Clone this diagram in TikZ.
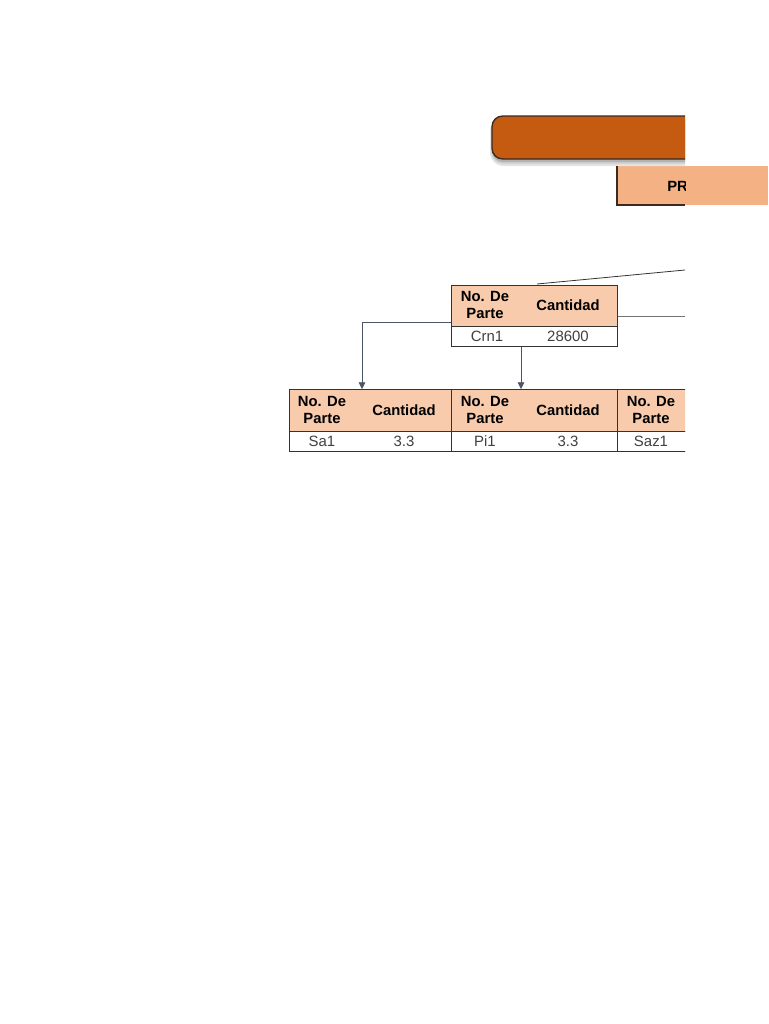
\documentclass[tikz,border=0pt]{standalone}
\usepackage{fontspec}
\setmainfont{Liberation Sans}
\usetikzlibrary{arrows.meta}
\definecolor{darkorange}{HTML}{C55A11}
\definecolor{prfill}{HTML}{F4B183}
\definecolor{hdrfill}{HTML}{F8CBAD}
\definecolor{boxline}{HTML}{3A2A20}
\definecolor{conn}{HTML}{4A5566}
\definecolor{datatext}{HTML}{404040}
\tikzset{
  hdrcell/.style={draw=black!80, line width=0.6pt, fill=hdrfill, anchor=north west, inner sep=0pt, minimum height=#1},
  datacell/.style={draw=black!80, line width=0.6pt, fill=white, anchor=north west, inner sep=0pt, minimum height=15pt},
  hdrtext/.style={font=\fontsize{11.1}{12.8}\selectfont\bfseries, align=center, inner sep=0pt, text=black},
  datatxt/.style={font=\fontsize{11.2}{13}\selectfont, inner sep=0pt, text=datatext},
  connector/.style={draw=conn, line width=0.6pt},
  arrowconn/.style={connector, -{Triangle[width=5pt,length=5pt]}},
}
\begin{document}
\begin{tikzpicture}[x=0.75pt,y=-0.75pt]
\useasboundingbox (0,0) rectangle (768,1024);
% PR box (fill runs on to the page edge)
\fill[prfill] (617,166) rectangle (768,205);
\begin{scope}
\clip (0,0) rectangle (685,1024);
% title box with soft shadow
\fill[black!10, rounded corners=10pt] (490,118) rectangle (722,166);
\fill[black!18, rounded corners=9pt] (491,119) rectangle (721,164);
\fill[black!30, rounded corners=8pt] (492,120) rectangle (720,162);
\draw[boxline, fill=darkorange, line width=1pt, rounded corners=8pt] (492,116) rectangle (720,159);
\draw[boxline, line width=0.8pt] (617,166) -- (617,205) -- (685,205);
\node[font=\fontsize{11.1}{12.8}\selectfont\bfseries, anchor=west, inner sep=0pt] (prtext) at (667,186) {PR};
% top table Crn1
\node[hdrcell=30.75pt, minimum width=124.5pt] (hA) at (451,285) {};
\node[datacell, minimum width=124.5pt] (dA) at (451,326) {};
\node[hdrtext] (hA1) at (485,305) {No. De\\Parte};
\node[hdrtext] (hA2) at (568,305) {Cantidad};
\node[datatxt] (dA1) at (487,336) {Crn1};
\node[datatxt] (dA2) at (568,336) {28600};
% bottom tables
\node[hdrcell=31.5pt, minimum width=121.5pt] (hB) at (289,389) {};
\node[datacell, minimum width=121.5pt] (dB) at (289,431) {};
\node[hdrtext] (hB1) at (322,410) {No. De\\Parte};
\node[hdrtext] (hB2) at (404,410) {Cantidad};
\node[datatxt] (dB1) at (322,441) {Sa1};
\node[datatxt] (dB2) at (404,441) {3.3};
\node[hdrcell=31.5pt, minimum width=124.5pt] (hC) at (451,389) {};
\node[datacell, minimum width=124.5pt] (dC) at (451,431) {};
\node[hdrtext] (hC1) at (485,410) {No. De\\Parte};
\node[hdrtext] (hC2) at (568,410) {Cantidad};
\node[datatxt] (dC1) at (485,441) {Pi1};
\node[datatxt] (dC2) at (568,441) {3.3};
\node[hdrcell=31.5pt, minimum width=124.5pt] (hD) at (617,389) {};
\node[datacell, minimum width=124.5pt] (dD) at (617,431) {};
\node[hdrtext] (hD1) at (651,410) {No. De\\Parte};
\node[datatxt] (dD1) at (651,441) {Saz1};
% connectors
\coordinate (diagEnd) at (685,270);
\coordinate (rightEnd) at (685,316);
\coordinate (diagStart) at (537,284);
\draw[connector, draw=black!80] (diagStart) -- (diagEnd);
\draw[connector, draw=black!55] (hA.east |- rightEnd) -- (rightEnd);
\draw[arrowconn] (hA.west |- 0,322) -| (hB.north -| 362,0);
\draw[arrowconn] (dA.south -| 521,0) -- (hC.north -| 521,0);
\end{scope}
\end{tikzpicture}
\end{document}
